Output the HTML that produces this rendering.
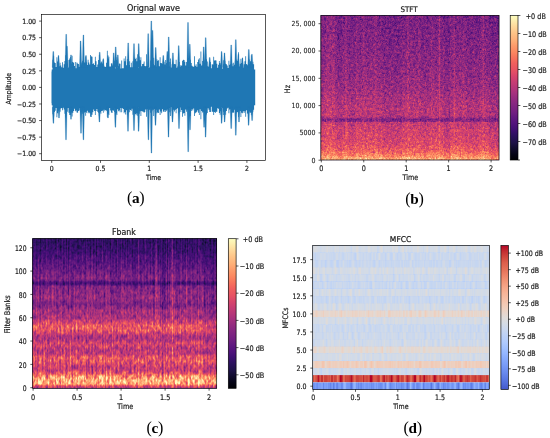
<!DOCTYPE html>
<html lang="en"><head><meta charset="utf-8"><title>Audio feature figures</title>
<style>html,body{margin:0;padding:0;background:#fff}svg{display:block}.t text{stroke:#1a1a1a;stroke-width:.2px}</style></head>
<body>
<svg width="550" height="438" viewBox="0 0 550 438">
<defs>
<linearGradient id="gMag" x1="0" y1="1" x2="0" y2="0"><stop offset="0" stop-color="#000004"/><stop offset="0.04" stop-color="#050416"/><stop offset="0.08" stop-color="#100b2d"/><stop offset="0.12" stop-color="#1d1147"/><stop offset="0.17" stop-color="#2c115f"/><stop offset="0.21" stop-color="#3f0f72"/><stop offset="0.25" stop-color="#51127c"/><stop offset="0.29" stop-color="#601880"/><stop offset="0.33" stop-color="#721f81"/><stop offset="0.38" stop-color="#832681"/><stop offset="0.42" stop-color="#932b80"/><stop offset="0.46" stop-color="#a5317e"/><stop offset="0.5" stop-color="#b73779"/><stop offset="0.54" stop-color="#c73d73"/><stop offset="0.58" stop-color="#d8456c"/><stop offset="0.62" stop-color="#e75263"/><stop offset="0.67" stop-color="#f1605d"/><stop offset="0.71" stop-color="#f8745c"/><stop offset="0.75" stop-color="#fc8961"/><stop offset="0.79" stop-color="#fd9b6b"/><stop offset="0.83" stop-color="#feb078"/><stop offset="0.88" stop-color="#fec488"/><stop offset="0.92" stop-color="#fed799"/><stop offset="0.96" stop-color="#fdebac"/><stop offset="1" stop-color="#fcfdbf"/></linearGradient>
<linearGradient id="gCW" x1="0" y1="1" x2="0" y2="0"><stop offset="0" stop-color="#4358cb"/><stop offset="0.04" stop-color="#506bda"/><stop offset="0.08" stop-color="#5d7ce6"/><stop offset="0.12" stop-color="#6a8bef"/><stop offset="0.17" stop-color="#799cf8"/><stop offset="0.21" stop-color="#86a9fc"/><stop offset="0.25" stop-color="#94b6ff"/><stop offset="0.29" stop-color="#a3c2fe"/><stop offset="0.33" stop-color="#b1cbfc"/><stop offset="0.38" stop-color="#bed2f6"/><stop offset="0.42" stop-color="#cbd8ee"/><stop offset="0.46" stop-color="#d6dce4"/><stop offset="0.5" stop-color="#e0dbd8"/><stop offset="0.54" stop-color="#ead4c8"/><stop offset="0.58" stop-color="#f1ccb8"/><stop offset="0.62" stop-color="#f5c1a9"/><stop offset="0.67" stop-color="#f7b497"/><stop offset="0.71" stop-color="#f7a688"/><stop offset="0.75" stop-color="#f39778"/><stop offset="0.79" stop-color="#ee8468"/><stop offset="0.83" stop-color="#e67259"/><stop offset="0.88" stop-color="#dd5f4b"/><stop offset="0.92" stop-color="#d0473d"/><stop offset="0.96" stop-color="#c32e31"/><stop offset="1" stop-color="#b40426"/></linearGradient>
<linearGradient id="pS" x1="0" y1="0" x2="0" y2="1"><stop offset="0" stop-color="#5b5b5b"/><stop offset="0.1" stop-color="#5d5d5d"/><stop offset="0.25" stop-color="#636363"/><stop offset="0.38" stop-color="#696969"/><stop offset="0.5" stop-color="#707070"/><stop offset="0.58" stop-color="#7a7a7a"/><stop offset="0.65" stop-color="#828282"/><stop offset="0.7" stop-color="#808080"/><stop offset="0.71" stop-color="#6e6e6e"/><stop offset="0.72" stop-color="#5e5e5e"/><stop offset="0.74" stop-color="#6e6e6e"/><stop offset="0.74" stop-color="#888888"/><stop offset="0.79" stop-color="#909090"/><stop offset="0.86" stop-color="#969696"/><stop offset="0.91" stop-color="#a1a1a1"/><stop offset="0.94" stop-color="#adadad"/><stop offset="0.97" stop-color="#c2c2c2"/><stop offset="0.99" stop-color="#d9d9d9"/><stop offset="1" stop-color="#cccccc"/></linearGradient>
<linearGradient id="pF" x1="0" y1="0" x2="0" y2="1"><stop offset="0" stop-color="#2b2b2b"/><stop offset="0.07" stop-color="#303030"/><stop offset="0.13" stop-color="#3d3d3d"/><stop offset="0.18" stop-color="#474747"/><stop offset="0.23" stop-color="#525252"/><stop offset="0.26" stop-color="#5c5c5c"/><stop offset="0.28" stop-color="#575757"/><stop offset="0.29" stop-color="#424242"/><stop offset="0.3" stop-color="#383838"/><stop offset="0.31" stop-color="#424242"/><stop offset="0.32" stop-color="#5c5c5c"/><stop offset="0.36" stop-color="#626262"/><stop offset="0.4" stop-color="#696969"/><stop offset="0.42" stop-color="#636363"/><stop offset="0.44" stop-color="#595959"/><stop offset="0.46" stop-color="#636363"/><stop offset="0.48" stop-color="#737373"/><stop offset="0.53" stop-color="#757575"/><stop offset="0.55" stop-color="#8a8a8a"/><stop offset="0.58" stop-color="#a1a1a1"/><stop offset="0.61" stop-color="#a3a3a3"/><stop offset="0.63" stop-color="#949494"/><stop offset="0.65" stop-color="#7d7d7d"/><stop offset="0.68" stop-color="#7d7d7d"/><stop offset="0.7" stop-color="#919191"/><stop offset="0.72" stop-color="#8f8f8f"/><stop offset="0.74" stop-color="#828282"/><stop offset="0.77" stop-color="#878787"/><stop offset="0.79" stop-color="#9e9e9e"/><stop offset="0.82" stop-color="#a3a3a3"/><stop offset="0.84" stop-color="#949494"/><stop offset="0.86" stop-color="#8a8a8a"/><stop offset="0.88" stop-color="#8c8c8c"/><stop offset="0.9" stop-color="#a3a3a3"/><stop offset="0.92" stop-color="#c7c7c7"/><stop offset="0.94" stop-color="#d4d4d4"/><stop offset="0.97" stop-color="#d4d4d4"/><stop offset="0.98" stop-color="#a8a8a8"/><stop offset="0.99" stop-color="#8c8c8c"/><stop offset="1" stop-color="#808080"/></linearGradient>
<filter id="fS" x="0" y="0" width="1" height="1" color-interpolation-filters="sRGB">
<feTurbulence type="fractalNoise" baseFrequency="0.37" numOctaves="2" seed="3" result="n0"/>
<feColorMatrix in="n0" type="matrix" values="1 0 0 0 0 1 0 0 0 0 1 0 0 0 0 0 0 0 0 1" result="g0"/>
<feGaussianBlur in="g0" stdDeviation="0.5" result="b0"/>
<feComposite in="SourceGraphic" in2="b0" operator="arithmetic" k1="0" k2="1" k3="0.3" k4="-0.15" result="v0"/>
<feTurbulence type="fractalNoise" baseFrequency="0.83 0.71" numOctaves="2" seed="9" result="n1"/>
<feColorMatrix in="n1" type="matrix" values="1 0 0 0 0 1 0 0 0 0 1 0 0 0 0 0 0 0 0 1" result="g1"/>
<feGaussianBlur in="g1" stdDeviation="0.35" result="b1"/>
<feComposite in="v0" in2="b1" operator="arithmetic" k1="0" k2="1" k3="0.3" k4="-0.15" result="v1"/>
<feComponentTransfer in="v1" result="c"><feFuncR type="table" tableValues="0.001 0.008 0.019 0.040 0.061 0.088 0.113 0.147 0.178 0.219 0.252 0.285 0.323 0.354 0.390 0.421 0.457 0.488 0.525 0.557 0.588 0.626 0.658 0.697 0.729 0.767 0.799 0.835 0.863 0.890 0.918 0.937 0.956 0.968 0.978 0.985 0.990 0.993 0.995 0.997 0.997 0.997 0.996 0.995 0.993 0.991 0.989 0.987"/><feFuncG type="table" tableValues="0.000 0.006 0.016 0.031 0.045 0.058 0.065 0.069 0.067 0.061 0.059 0.063 0.074 0.085 0.100 0.113 0.128 0.139 0.153 0.163 0.174 0.186 0.196 0.209 0.219 0.234 0.247 0.266 0.284 0.305 0.336 0.365 0.404 0.440 0.484 0.521 0.565 0.602 0.639 0.683 0.719 0.762 0.798 0.841 0.877 0.920 0.956 0.991"/><feFuncB type="table" tableValues="0.014 0.045 0.085 0.134 0.176 0.230 0.277 0.334 0.379 0.425 0.453 0.472 0.487 0.496 0.502 0.505 0.507 0.508 0.507 0.505 0.502 0.496 0.490 0.481 0.471 0.458 0.445 0.428 0.412 0.397 0.380 0.369 0.361 0.360 0.366 0.377 0.395 0.414 0.437 0.467 0.494 0.529 0.560 0.599 0.633 0.676 0.712 0.750"/></feComponentTransfer>
<feComposite in="c" in2="SourceGraphic" operator="in"/>
</filter>
<filter id="fF" x="0" y="0" width="1" height="1" color-interpolation-filters="sRGB">
<feTurbulence type="fractalNoise" baseFrequency="0.5 0.2" numOctaves="2" seed="11" result="n0"/>
<feColorMatrix in="n0" type="matrix" values="1 0 0 0 0 1 0 0 0 0 1 0 0 0 0 0 0 0 0 1" result="g0"/>
<feGaussianBlur in="g0" stdDeviation="0.3" result="b0"/>
<feComposite in="SourceGraphic" in2="b0" operator="arithmetic" k1="0.84" k2="0.58" k3="0" k4="0" result="v0"/>
<feTurbulence type="fractalNoise" baseFrequency="0.5" numOctaves="2" seed="4" result="n1"/>
<feColorMatrix in="n1" type="matrix" values="1 0 0 0 0 1 0 0 0 0 1 0 0 0 0 0 0 0 0 1" result="g1"/>
<feGaussianBlur in="g1" stdDeviation="0.4" result="b1"/>
<feComposite in="v0" in2="b1" operator="arithmetic" k1="0" k2="1" k3="0.12" k4="-0.06" result="v1"/>
<feTurbulence type="fractalNoise" baseFrequency="0.8 0.012" numOctaves="1" seed="8" result="n2"/>
<feColorMatrix in="n2" type="matrix" values="1 0 0 0 0 1 0 0 0 0 1 0 0 0 0 0 0 0 0 1" result="g2"/>
<feComposite in="v1" in2="g2" operator="arithmetic" k1="0" k2="1" k3="0.3" k4="-0.15" result="v2"/>
<feComponentTransfer in="v2" result="c"><feFuncR type="table" tableValues="0.001 0.008 0.019 0.040 0.061 0.088 0.113 0.147 0.178 0.219 0.252 0.285 0.323 0.354 0.390 0.421 0.457 0.488 0.525 0.557 0.588 0.626 0.658 0.697 0.729 0.767 0.799 0.835 0.863 0.890 0.918 0.937 0.956 0.968 0.978 0.985 0.990 0.993 0.995 0.997 0.997 0.997 0.996 0.995 0.993 0.991 0.989 0.987"/><feFuncG type="table" tableValues="0.000 0.006 0.016 0.031 0.045 0.058 0.065 0.069 0.067 0.061 0.059 0.063 0.074 0.085 0.100 0.113 0.128 0.139 0.153 0.163 0.174 0.186 0.196 0.209 0.219 0.234 0.247 0.266 0.284 0.305 0.336 0.365 0.404 0.440 0.484 0.521 0.565 0.602 0.639 0.683 0.719 0.762 0.798 0.841 0.877 0.920 0.956 0.991"/><feFuncB type="table" tableValues="0.014 0.045 0.085 0.134 0.176 0.230 0.277 0.334 0.379 0.425 0.453 0.472 0.487 0.496 0.502 0.505 0.507 0.508 0.507 0.505 0.502 0.496 0.490 0.481 0.471 0.458 0.445 0.428 0.412 0.397 0.380 0.369 0.361 0.360 0.366 0.377 0.395 0.414 0.437 0.467 0.494 0.529 0.560 0.599 0.633 0.676 0.712 0.750"/></feComponentTransfer>
<feComposite in="c" in2="SourceGraphic" operator="in"/>
</filter>
<filter id="fM" x="0" y="0" width="1" height="1" color-interpolation-filters="sRGB">
<feTurbulence type="fractalNoise" baseFrequency="0.33 0.0001" numOctaves="2" seed="5" result="n0"/>
<feColorMatrix in="n0" type="matrix" values="1 0 0 0 0 1 0 0 0 0 1 0 0 0 0 0 0 0 0 1" result="g0"/>
<feComposite in="SourceGraphic" in2="g0" operator="arithmetic" k1="0" k2="1" k3="0.17" k4="-0.09" result="v0"/>
<feComponentTransfer in="v0" result="c"><feFuncR type="table" tableValues="0.230 0.253 0.276 0.304 0.329 0.358 0.384 0.415 0.441 0.473 0.500 0.527 0.560 0.587 0.619 0.646 0.678 0.704 0.734 0.759 0.782 0.809 0.831 0.855 0.876 0.900 0.916 0.933 0.946 0.955 0.963 0.968 0.970 0.968 0.965 0.959 0.949 0.939 0.927 0.909 0.892 0.870 0.848 0.820 0.796 0.764 0.735 0.706"/><feFuncG type="table" tableValues="0.299 0.333 0.367 0.407 0.440 0.478 0.510 0.547 0.577 0.611 0.639 0.665 0.695 0.718 0.744 0.764 0.787 0.803 0.820 0.833 0.843 0.853 0.860 0.864 0.860 0.848 0.834 0.816 0.799 0.779 0.754 0.731 0.701 0.674 0.640 0.610 0.572 0.540 0.505 0.462 0.425 0.379 0.338 0.287 0.242 0.179 0.104 0.016"/><feFuncB type="table" tableValues="0.754 0.784 0.813 0.845 0.870 0.897 0.918 0.939 0.955 0.971 0.981 0.989 0.996 0.999 0.999 0.997 0.991 0.983 0.971 0.958 0.943 0.922 0.903 0.877 0.851 0.818 0.789 0.753 0.723 0.693 0.656 0.625 0.588 0.557 0.520 0.489 0.453 0.424 0.395 0.361 0.333 0.301 0.275 0.245 0.221 0.193 0.171 0.150"/></feComponentTransfer>
<feComposite in="c" in2="SourceGraphic" operator="in"/>
</filter>
<filter id="fM2" x="0" y="0" width="1" height="1" color-interpolation-filters="sRGB">
<feTurbulence type="fractalNoise" baseFrequency="0.3 0.0001" numOctaves="2" seed="5" result="n0"/>
<feColorMatrix in="n0" type="matrix" values="1 0 0 0 0 1 0 0 0 0 1 0 0 0 0 0 0 0 0 1" result="g0"/>
<feComposite in="SourceGraphic" in2="g0" operator="arithmetic" k1="0" k2="1" k3="0.42" k4="-0.21" result="v0"/>
<feComponentTransfer in="v0" result="c"><feFuncR type="table" tableValues="0.230 0.253 0.276 0.304 0.329 0.358 0.384 0.415 0.441 0.473 0.500 0.527 0.560 0.587 0.619 0.646 0.678 0.704 0.734 0.759 0.782 0.809 0.831 0.855 0.876 0.900 0.916 0.933 0.946 0.955 0.963 0.968 0.970 0.968 0.965 0.959 0.949 0.939 0.927 0.909 0.892 0.870 0.848 0.820 0.796 0.764 0.735 0.706"/><feFuncG type="table" tableValues="0.299 0.333 0.367 0.407 0.440 0.478 0.510 0.547 0.577 0.611 0.639 0.665 0.695 0.718 0.744 0.764 0.787 0.803 0.820 0.833 0.843 0.853 0.860 0.864 0.860 0.848 0.834 0.816 0.799 0.779 0.754 0.731 0.701 0.674 0.640 0.610 0.572 0.540 0.505 0.462 0.425 0.379 0.338 0.287 0.242 0.179 0.104 0.016"/><feFuncB type="table" tableValues="0.754 0.784 0.813 0.845 0.870 0.897 0.918 0.939 0.955 0.971 0.981 0.989 0.996 0.999 0.999 0.997 0.991 0.983 0.971 0.958 0.943 0.922 0.903 0.877 0.851 0.818 0.789 0.753 0.723 0.693 0.656 0.625 0.588 0.557 0.520 0.489 0.453 0.424 0.395 0.361 0.333 0.301 0.275 0.245 0.221 0.193 0.171 0.150"/></feComponentTransfer>
<feComposite in="c" in2="SourceGraphic" operator="in"/>
</filter>
</defs>
<rect width="550" height="438" fill="#fff"/>
<g class="t" font-family="DejaVu Sans, Liberation Sans, sans-serif" font-size="7.2" fill="#1a1a1a">
<rect x="51.7" y="69.5" width="203.5" height="35.8" fill="#1f77b4"/>
<path d="M51.7 71.49L52.5 71.49L52.5 59.81L53.3 59.81L53.3 55.78L54.1 55.78L54.1 62.42L54.9 62.42L54.9 62.99L55.7 62.99L55.7 66.98L56.5 66.98L56.5 57.23L57.3 57.23L57.3 61.5L58.1 61.5L58.1 62.93L58.9 62.93L58.9 66.13L59.7 66.13L59.7 62.68L60.5 62.68L60.5 65.49L61.3 65.49L61.3 67.3L62.1 67.3L62.1 62.31L62.9 62.31L62.9 67.84L63.7 67.84L63.7 64.25L64.5 64.25L64.5 61.07L65.3 61.07L65.3 55.22L66.1 55.22L66.1 63.43L66.9 63.43L66.9 66.06L67.7 66.06L67.7 67.39L68.5 67.39L68.5 59.98L69.3 59.98L69.3 58.6L70.1 58.6L70.1 57.1L70.9 57.1L70.9 63.66L71.7 63.66L71.7 55.84L72.5 55.84L72.5 61.97L73.3 61.97L73.3 62.83L74.1 62.83L74.1 65.95L74.9 65.95L74.9 61.93L75.7 61.93L75.7 68.36L76.5 68.36L76.5 62.54L77.3 62.54L77.3 63.42L78.1 63.42L78.1 63.89L78.9 63.89L78.9 67.07L79.7 67.07L79.7 65.47L80.5 65.47L80.5 64.41L81.3 64.41L81.3 62.47L82.1 62.47L82.1 60.85L82.9 60.85L82.9 62.6L83.7 62.6L83.7 62.12L84.5 62.12L84.5 62.88L85.3 62.88L85.3 56.53L86.1 56.53L86.1 62.21L86.9 62.21L86.9 65.09L87.7 65.09L87.7 59.78L88.5 59.78L88.5 62.41L89.3 62.41L89.3 64.5L90.1 64.5L90.1 55L90.9 55L90.9 56.2L91.7 56.2L91.7 56.65L92.5 56.65L92.5 64.11L93.3 64.11L93.3 63.25L94.1 63.25L94.1 65.11L94.9 65.11L94.9 56.76L95.7 56.76L95.7 61.37L96.5 61.37L96.5 67L97.3 67L97.3 64.38L98.1 64.38L98.1 60.04L98.9 60.04L98.9 54.81L99.7 54.81L99.7 63.38L100.5 63.38L100.5 62.42L101.3 62.42L101.3 61.62L102.1 61.62L102.1 63.39L102.9 63.39L102.9 58.49L103.7 58.49L103.7 66.13L104.5 66.13L104.5 67.11L105.3 67.11L105.3 66.79L106.1 66.79L106.1 62.81L106.9 62.81L106.9 50.73L107.7 50.73L107.7 58.57L108.5 58.57L108.5 56.69L109.3 56.69L109.3 66.49L110.1 66.49L110.1 66.39L110.9 66.39L110.9 63.19L111.7 63.19L111.7 63.58L112.5 63.58L112.5 65.55L113.3 65.55L113.3 66.31L114.1 66.31L114.1 60.72L114.9 60.72L114.9 68.36L115.7 68.36L115.7 59.96L116.5 59.96L116.5 57.33L117.3 57.33L117.3 67.37L118.1 67.37L118.1 65.89L118.9 65.89L118.9 63.49L119.7 63.49L119.7 63.84L120.5 63.84L120.5 68.47L121.3 68.47L121.3 60.5L122.1 60.5L122.1 68.23L122.9 68.23L122.9 68.16L123.7 68.16L123.7 58.59L124.5 58.59L124.5 61.22L125.3 61.22L125.3 56.19L126.1 56.19L126.1 65.19L126.9 65.19L126.9 59L127.7 59L127.7 62.18L128.5 62.18L128.5 64.95L129.3 64.95L129.3 61.35L130.1 61.35L130.1 67.25L130.9 67.25L130.9 62.79L131.7 62.79L131.7 67.17L132.5 67.17L132.5 61.16L133.3 61.16L133.3 64.51L134.1 64.51L134.1 57.83L134.9 57.83L134.9 59.07L135.7 59.07L135.7 57.72L136.5 57.72L136.5 61.24L137.3 61.24L137.3 54.15L138.1 54.15L138.1 67.5L138.9 67.5L138.9 56.61L139.7 56.61L139.7 60.27L140.5 60.27L140.5 57.22L141.3 57.22L141.3 66.32L142.1 66.32L142.1 64.08L142.9 64.08L142.9 63.74L143.7 63.74L143.7 61.54L144.5 61.54L144.5 65.95L145.3 65.95L145.3 66.15L146.1 66.15L146.1 54.31L146.9 54.31L146.9 66.11L147.7 66.11L147.7 62.28L148.5 62.28L148.5 67.74L149.3 67.74L149.3 67.26L150.1 67.26L150.1 60.54L150.9 60.54L150.9 65.26L151.7 65.26L151.7 63.91L152.5 63.91L152.5 64.02L153.3 64.02L153.3 57.83L154.1 57.83L154.1 65.28L154.9 65.28L154.9 64.94L155.7 64.94L155.7 66.55L156.5 66.55L156.5 59.34L157.3 59.34L157.3 60.8L158.1 60.8L158.1 60.29L158.9 60.29L158.9 66.31L159.7 66.31L159.7 57.3L160.5 57.3L160.5 63.11L161.3 63.11L161.3 63.34L162.1 63.34L162.1 63.85L162.9 63.85L162.9 61.24L163.7 61.24L163.7 61.8L164.5 61.8L164.5 64.54L165.3 64.54L165.3 59.88L166.1 59.88L166.1 63.1L166.9 63.1L166.9 66.23L167.7 66.23L167.7 61.63L168.5 61.63L168.5 66.16L169.3 66.16L169.3 61.95L170.1 61.95L170.1 58.38L170.9 58.38L170.9 67.42L171.7 67.42L171.7 64.16L172.5 64.16L172.5 63.91L173.3 63.91L173.3 64.59L174.1 64.59L174.1 63.88L174.9 63.88L174.9 64.18L175.7 64.18L175.7 59.66L176.5 59.66L176.5 67.66L177.3 67.66L177.3 66.38L178.1 66.38L178.1 64.01L178.9 64.01L178.9 61.89L179.7 61.89L179.7 66.5L180.5 66.5L180.5 64.98L181.3 64.98L181.3 65.65L182.1 65.65L182.1 60.7L182.9 60.7L182.9 59.85L183.7 59.85L183.7 59.96L184.5 59.96L184.5 61.67L185.3 61.67L185.3 65.62L186.1 65.62L186.1 62L186.9 62L186.9 65.54L187.7 65.54L187.7 62.95L188.5 62.95L188.5 63.56L189.3 63.56L189.3 63.62L190.1 63.62L190.1 59.71L190.9 59.71L190.9 62.88L191.7 62.88L191.7 65.67L192.5 65.67L192.5 66.39L193.3 66.39L193.3 66.79L194.1 66.79L194.1 56.3L194.9 56.3L194.9 65.76L195.7 65.76L195.7 64.29L196.5 64.29L196.5 66.76L197.3 66.76L197.3 61.91L198.1 61.91L198.1 59.58L198.9 59.58L198.9 58.23L199.7 58.23L199.7 63.78L200.5 63.78L200.5 51.53L201.3 51.53L201.3 65.57L202.1 65.57L202.1 61.06L202.9 61.06L202.9 65.33L203.7 65.33L203.7 62.79L204.5 62.79L204.5 60.31L205.3 60.31L205.3 53.92L206.1 53.92L206.1 59.17L206.9 59.17L206.9 61.6L207.7 61.6L207.7 66.24L208.5 66.24L208.5 67.08L209.3 67.08L209.3 63.66L210.1 63.66L210.1 62.01L210.9 62.01L210.9 68.16L211.7 68.16L211.7 64.23L212.5 64.23L212.5 64.62L213.3 64.62L213.3 56.74L214.1 56.74L214.1 60.59L214.9 60.59L214.9 60.23L215.7 60.23L215.7 60.58L216.5 60.58L216.5 63.85L217.3 63.85L217.3 67.68L218.1 67.68L218.1 64.79L218.9 64.79L218.9 61.06L219.7 61.06L219.7 62.97L220.5 62.97L220.5 64.5L221.3 64.5L221.3 66.91L222.1 66.91L222.1 68.38L222.9 68.38L222.9 60.25L223.7 60.25L223.7 64.21L224.5 64.21L224.5 60.78L225.3 60.78L225.3 63.69L226.1 63.69L226.1 64.13L226.9 64.13L226.9 65.6L227.7 65.6L227.7 67.98L228.5 67.98L228.5 60.63L229.3 60.63L229.3 64.86L230.1 64.86L230.1 64.16L230.9 64.16L230.9 60.77L231.7 60.77L231.7 63.55L232.5 63.55L232.5 66.37L233.3 66.37L233.3 62.87L234.1 62.87L234.1 64.72L234.9 64.72L234.9 61.11L235.7 61.11L235.7 60.48L236.5 60.48L236.5 59.46L237.3 59.46L237.3 60.9L238.1 60.9L238.1 52.14L238.9 52.14L238.9 66.41L239.7 66.41L239.7 63.73L240.5 63.73L240.5 58.78L241.3 58.78L241.3 62.96L242.1 62.96L242.1 57.77L242.9 57.77L242.9 67.44L243.7 67.44L243.7 64.22L244.5 64.22L244.5 61.18L245.3 61.18L245.3 56.29L246.1 56.29L246.1 64L246.9 64L246.9 65.15L247.7 65.15L247.7 64.31L248.5 64.31L248.5 63.91L249.3 63.91L249.3 59.39L250.1 59.39L250.1 61.23L250.9 61.23L250.9 55.15L251.7 55.15L251.7 63.89L252.5 63.89L252.5 61.78L253.3 61.78L253.3 64.35L254.1 64.35L254.1 71.49L254.9 71.49L254.9 103.31L254.1 103.31L254.1 109.64L253.3 109.64L253.3 111.78L252.5 111.78L252.5 112.47L251.7 112.47L251.7 115.19L250.9 115.19L250.9 112.68L250.1 112.68L250.1 112.58L249.3 112.58L249.3 111.03L248.5 111.03L248.5 112.98L247.7 112.98L247.7 113.8L246.9 113.8L246.9 110.26L246.1 110.26L246.1 116.74L245.3 116.74L245.3 111.13L244.5 111.13L244.5 113.07L243.7 113.07L243.7 111.14L242.9 111.14L242.9 113.2L242.1 113.2L242.1 112.8L241.3 112.8L241.3 116.91L240.5 116.91L240.5 111.11L239.7 111.11L239.7 110.38L238.9 110.38L238.9 117.02L238.1 117.02L238.1 112.17L237.3 112.17L237.3 112L236.5 112L236.5 113.51L235.7 113.51L235.7 116.43L234.9 116.43L234.9 109.77L234.1 109.77L234.1 112.49L233.3 112.49L233.3 112.89L232.5 112.89L232.5 112.15L231.7 112.15L231.7 112.56L230.9 112.56L230.9 109.03L230.1 109.03L230.1 109.46L229.3 109.46L229.3 113.16L228.5 113.16L228.5 107.63L227.7 107.63L227.7 108.54L226.9 108.54L226.9 111.06L226.1 111.06L226.1 114.75L225.3 114.75L225.3 111.68L224.5 111.68L224.5 111.63L223.7 111.63L223.7 115.06L222.9 115.06L222.9 107.93L222.1 107.93L222.1 107.4L221.3 107.4L221.3 111.28L220.5 111.28L220.5 114.73L219.7 114.73L219.7 113.11L218.9 113.11L218.9 108.74L218.1 108.74L218.1 108.34L217.3 108.34L217.3 111.65L216.5 111.65L216.5 111.74L215.7 111.74L215.7 113.12L214.9 113.12L214.9 111.89L214.1 111.89L214.1 114.99L213.3 114.99L213.3 111.69L212.5 111.69L212.5 111.81L211.7 111.81L211.7 106.76L210.9 106.76L210.9 111.9L210.1 111.9L210.1 111.99L209.3 111.99L209.3 109.79L208.5 109.79L208.5 108.22L207.7 108.22L207.7 112.88L206.9 112.88L206.9 114.49L206.1 114.49L206.1 115.91L205.3 115.91L205.3 112.11L204.5 112.11L204.5 112.33L203.7 112.33L203.7 111.83L202.9 111.83L202.9 112.45L202.1 112.45L202.1 110.94L201.3 110.94L201.3 119.34L200.5 119.34L200.5 109.37L199.7 109.37L199.7 115.04L198.9 115.04L198.9 112.84L198.1 112.84L198.1 110.3L197.3 110.3L197.3 111.8L196.5 111.8L196.5 112.41L195.7 112.41L195.7 113.13L194.9 113.13L194.9 115.93L194.1 115.93L194.1 108.45L193.3 108.45L193.3 110.47L192.5 110.47L192.5 109.2L191.7 109.2L191.7 110.9L190.9 110.9L190.9 115.98L190.1 115.98L190.1 111.46L189.3 111.46L189.3 111.14L188.5 111.14L188.5 114.58L187.7 114.58L187.7 109.76L186.9 109.76L186.9 111.82L186.1 111.82L186.1 109.49L185.3 109.49L185.3 115.66L184.5 115.66L184.5 112.96L183.7 112.96L183.7 113.52L182.9 113.52L182.9 116.66L182.1 116.66L182.1 110.02L181.3 110.02L181.3 111.97L180.5 111.97L180.5 107.62L179.7 107.62L179.7 112.02L178.9 112.02L178.9 113.25L178.1 113.25L178.1 108.03L177.3 108.03L177.3 108.95L176.5 108.95L176.5 113.2L175.7 113.2L175.7 109.76L174.9 109.76L174.9 111.5L174.1 111.5L174.1 110.05L173.3 110.05L173.3 109.18L172.5 109.18L172.5 110.77L171.7 110.77L171.7 107.33L170.9 107.33L170.9 115.92L170.1 115.92L170.1 112.24L169.3 112.24L169.3 107.89L168.5 107.89L168.5 110.56L167.7 110.56L167.7 109.44L166.9 109.44L166.9 110.65L166.1 110.65L166.1 112.04L165.3 112.04L165.3 110.19L164.5 110.19L164.5 112.1L163.7 112.1L163.7 111.51L162.9 111.51L162.9 109.37L162.1 109.37L162.1 113.17L161.3 113.17L161.3 111.47L160.5 111.47L160.5 114.91L159.7 114.91L159.7 109.45L158.9 109.45L158.9 113.09L158.1 113.09L158.1 112.51L157.3 112.51L157.3 113.34L156.5 113.34L156.5 109.71L155.7 109.71L155.7 111.85L154.9 111.85L154.9 109.04L154.1 109.04L154.1 115.97L153.3 115.97L153.3 109.72L152.5 109.72L152.5 111.31L151.7 111.31L151.7 108.39L150.9 108.39L150.9 112.78L150.1 112.78L150.1 109.98L149.3 109.98L149.3 109.31L148.5 109.31L148.5 111.61L147.7 111.61L147.7 109.29L146.9 109.29L146.9 116.8L146.1 116.8L146.1 109.57L145.3 109.57L145.3 112L144.5 112L144.5 112.64L143.7 112.64L143.7 111.71L142.9 111.71L142.9 111.57L142.1 111.57L142.1 111.03L141.3 111.03L141.3 116.1L140.5 116.1L140.5 111.34L139.7 111.34L139.7 113.87L138.9 113.87L138.9 107.78L138.1 107.78L138.1 115.74L137.3 115.74L137.3 113.62L136.5 113.62L136.5 115.25L135.7 115.25L135.7 113.88L134.9 113.88L134.9 113.33L134.1 113.33L134.1 110.65L133.3 110.65L133.3 114.68L132.5 114.68L132.5 108.82L131.7 108.82L131.7 110.83L130.9 110.83L130.9 109.91L130.1 109.91L130.1 112.24L129.3 112.24L129.3 109.6L128.5 109.6L128.5 111.44L127.7 111.44L127.7 114.82L126.9 114.82L126.9 110.34L126.1 110.34L126.1 114.56L125.3 114.56L125.3 112.12L124.5 112.12L124.5 113.29L123.7 113.29L123.7 108.89L122.9 108.89L122.9 108.26L122.1 108.26L122.1 112.13L121.3 112.13L121.3 108.08L120.5 108.08L120.5 112.13L119.7 112.13L119.7 110.48L118.9 110.48L118.9 111.29L118.1 111.29L118.1 109.22L117.3 109.22L117.3 114.92L116.5 114.92L116.5 113.46L115.7 113.46L115.7 108.22L114.9 108.22L114.9 111.96L114.1 111.96L114.1 110.75L113.3 110.75L113.3 110.3L112.5 110.3L112.5 113.04L111.7 113.04L111.7 112.42L110.9 112.42L110.9 110.62L110.1 110.62L110.1 107.92L109.3 107.92L109.3 115.01L108.5 115.01L108.5 113.85L107.7 113.85L107.7 117.33L106.9 117.33L106.9 110.69L106.1 110.69L106.1 110.08L105.3 110.08L105.3 111.26L104.5 111.26L104.5 109.7L103.7 109.7L103.7 112.79L102.9 112.79L102.9 110.63L102.1 110.63L102.1 110.88L101.3 110.88L101.3 113.76L100.5 113.76L100.5 112.25L99.7 112.25L99.7 116.1L98.9 116.1L98.9 112.8L98.1 112.8L98.1 111.74L97.3 111.74L97.3 108.9L96.5 108.9L96.5 110.89L95.7 110.89L95.7 114.93L94.9 114.93L94.9 111.1L94.1 111.1L94.1 109.53L93.3 109.53L93.3 112.18L92.5 112.18L92.5 114.87L91.7 114.87L91.7 116.99L90.9 116.99L90.9 116.77L90.1 116.77L90.1 113.28L89.3 113.28L89.3 112.16L88.5 112.16L88.5 113.31L87.7 113.31L87.7 110.76L86.9 110.76L86.9 112.82L86.1 112.82L86.1 115.81L85.3 115.81L85.3 112.07L84.5 112.07L84.5 113.12L83.7 113.12L83.7 111.9L82.9 111.9L82.9 113.67L82.1 113.67L82.1 110.98L81.3 110.98L81.3 110.18L80.5 110.18L80.5 108.34L79.7 108.34L79.7 110.39L78.9 110.39L78.9 111.05L78.1 111.05L78.1 112.87L77.3 112.87L77.3 112.47L76.5 112.47L76.5 110.58L75.7 110.58L75.7 111.21L74.9 111.21L74.9 108.76L74.1 108.76L74.1 111.12L73.3 111.12L73.3 112.87L72.5 112.87L72.5 116.39L71.7 116.39L71.7 112.48L70.9 112.48L70.9 114.88L70.1 114.88L70.1 114.94L69.3 114.94L69.3 112.71L68.5 112.71L68.5 108.04L67.7 108.04L67.7 111.69L66.9 111.69L66.9 109.38L66.1 109.38L66.1 117.5L65.3 117.5L65.3 113.64L64.5 113.64L64.5 109.51L63.7 109.51L63.7 107.75L62.9 107.75L62.9 110.33L62.1 110.33L62.1 108.05L61.3 108.05L61.3 108.56L60.5 108.56L60.5 111.84L59.7 111.84L59.7 108.5L58.9 108.5L58.9 110.65L58.1 110.65L58.1 113.14L57.3 113.14L57.3 117.33L56.5 117.33L56.5 107.9L55.7 107.9L55.7 110.79L54.9 110.79L54.9 112.07L54.1 112.07L54.1 116.4L53.3 116.4L53.3 114.17L52.5 114.17L52.5 103.31L51.7 103.31Z" fill="#1f77b4"/>
<path d="M52.2 67.51L52.9 51.6L53.7 51.6L54.4 67.51ZM57.4 67.51L58.1 55.58L58.9 55.58L59.6 67.51ZM65.1 67.51L65.8 34.36L66.6 34.36L67.3 67.51ZM65.9 67.51L66.6 46.29L67.4 46.29L68.1 67.51ZM69.9 67.51L70.6 54.91L71.4 54.91L72.1 67.51ZM79.5 67.51L80.2 40.99L81 40.99L81.7 67.51ZM82.3 67.51L83 35.02L83.8 35.02L84.5 67.51ZM84.9 67.51L85.6 55.58L86.4 55.58L87.1 67.51ZM98.6 67.51L99.3 52.26L100.1 52.26L100.8 67.51ZM102.1 67.51L102.8 59.55L103.6 59.55L104.3 67.51ZM106.8 67.51L107.5 55.58L108.3 55.58L109 67.51ZM112.6 67.51L113.3 52.92L114.1 52.92L114.8 67.51ZM114.6 67.51L115.3 46.96L116.1 46.96L116.8 67.51ZM116.7 67.51L117.4 54.91L118.2 54.91L118.9 67.51ZM127.1 67.51L127.8 42.98L128.6 42.98L129.3 67.51ZM132.9 67.51L133.6 43.64L134.4 43.64L135.1 67.51ZM137.6 67.51L138.3 43.64L139.1 43.64L139.8 67.51ZM147.1 67.51L147.8 33.7L148.6 33.7L149.3 67.51ZM150.2 67.51L150.9 21.1L151.7 21.1L152.4 67.51ZM151.5 67.51L152.2 30.38L153 30.38L153.7 67.51ZM154.6 67.51L155.3 47.62L156.1 47.62L156.8 67.51ZM162.2 67.51L162.9 55.58L163.7 55.58L164.4 67.51ZM166.2 67.51L166.9 51.6L167.7 51.6L168.4 67.51ZM167.6 67.51L168.3 37.01L169.1 37.01L169.8 67.51ZM171.8 67.51L172.5 52.92L173.3 52.92L174 67.51ZM177.6 67.51L178.3 45.63L179.1 45.63L179.8 67.51ZM186.9 67.51L187.6 22.43L188.4 22.43L189.1 67.51ZM188.7 67.51L189.4 44.31L190.2 44.31L190.9 67.51ZM202.6 67.51L203.3 46.96L204.1 46.96L204.8 67.51ZM204.6 67.51L205.3 37.68L206.1 37.68L206.8 67.51ZM208.6 67.51L209.3 57.57L210.1 57.57L210.8 67.51ZM220.5 67.51L221.2 51.6L222 51.6L222.7 67.51ZM223.4 67.51L224.1 52.92L224.9 52.92L225.6 67.51ZM230.1 67.51L230.8 44.97L231.6 44.97L232.3 67.51ZM234.7 67.51L235.4 39.66L236.2 39.66L236.9 67.51ZM237.3 67.51L238 54.25L238.8 54.25L239.5 67.51ZM241.3 67.51L242 58.23L242.8 58.23L243.5 67.51ZM247.7 67.51L248.4 49.61L249.2 49.61L249.9 67.51ZM250.8 67.51L251.5 54.25L252.3 54.25L253 67.51ZM52.3 107.29L53 123.2L53.8 123.2L54.5 107.29ZM57.9 107.29L58.6 117.9L59.4 117.9L60.1 107.29ZM64.9 107.29L65.6 139.78L66.4 139.78L67.1 107.29ZM69.9 107.29L70.6 119.22L71.4 119.22L72.1 107.29ZM79.9 107.29L80.6 133.15L81.4 133.15L82.1 107.29ZM82.3 107.29L83 139.78L83.8 139.78L84.5 107.29ZM98.3 107.29L99 121.88L99.8 121.88L100.5 107.29ZM106.9 107.29L107.6 117.9L108.4 117.9L109.1 107.29ZM114.3 107.29L115 127.18L115.8 127.18L116.5 107.29ZM126.9 107.29L127.6 131.16L128.4 131.16L129.1 107.29ZM132.9 107.29L133.6 130.5L134.4 130.5L135.1 107.29ZM137.5 107.29L138.2 131.16L139 131.16L139.7 107.29ZM147.3 107.29L148 139.78L148.8 139.78L149.5 107.29ZM150.3 107.29L151 153.04L151.8 153.04L152.5 107.29ZM154.4 107.29L155.1 125.19L155.9 125.19L156.6 107.29ZM167.4 107.29L168.1 137.12L168.9 137.12L169.6 107.29ZM171.4 107.29L172.1 121.88L172.9 121.88L173.6 107.29ZM177.9 107.29L178.6 128.51L179.4 128.51L180.1 107.29ZM187.1 107.29L187.8 151.71L188.6 151.71L189.3 107.29ZM188.9 107.29L189.6 129.83L190.4 129.83L191.1 107.29ZM203 107.29L203.7 127.18L204.5 127.18L205.2 107.29ZM204.5 107.29L205.2 137.12L206 137.12L206.7 107.29ZM220.5 107.29L221.2 123.2L222 123.2L222.7 107.29ZM223.5 107.29L224.2 121.88L225 121.88L225.7 107.29ZM230.1 107.29L230.8 128.51L231.6 128.51L232.3 107.29ZM234.7 107.29L235.4 135.14L236.2 135.14L236.9 107.29ZM237.9 107.29L238.6 121.88L239.4 121.88L240.1 107.29ZM247.5 107.29L248.2 125.19L249 125.19L249.7 107.29ZM251 107.29L251.7 120.55L252.5 120.55L253.2 107.29Z" fill="#1f77b4" stroke="#1f77b4" stroke-width="0.25"/>
<rect x="41.5" y="14.5" width="224" height="146" fill="none" stroke="#000" stroke-width="0.65"/>
<path d="M51.7 160.5v2.4M100.5 160.5v2.4M149.3 160.5v2.4M198.1 160.5v2.4M246.9 160.5v2.4" stroke="#000" stroke-width="0.65" fill="none"/>
<text transform="translate(51.7 170.7) scale(0.87 1)" text-anchor="middle" font-size="7.1">0</text>
<text transform="translate(100.5 170.7) scale(0.87 1)" text-anchor="middle" font-size="7.1">0.5</text>
<text transform="translate(149.3 170.7) scale(0.87 1)" text-anchor="middle" font-size="7.1">1</text>
<text transform="translate(198.1 170.7) scale(0.87 1)" text-anchor="middle" font-size="7.1">1.5</text>
<text transform="translate(246.9 170.7) scale(0.87 1)" text-anchor="middle" font-size="7.1">2</text>
<path d="M41.5 21.1h-2.4M41.5 37.68h-2.4M41.5 54.25h-2.4M41.5 70.83h-2.4M41.5 87.4h-2.4M41.5 103.98h-2.4M41.5 120.55h-2.4M41.5 137.12h-2.4M41.5 153.7h-2.4" stroke="#000" stroke-width="0.65" fill="none"/>
<text transform="translate(36 23.79) scale(0.87 1)" text-anchor="end" font-size="7.1">1.00</text>
<text transform="translate(36 40.37) scale(0.87 1)" text-anchor="end" font-size="7.1">0.75</text>
<text transform="translate(36 56.94) scale(0.87 1)" text-anchor="end" font-size="7.1">0.50</text>
<text transform="translate(36 73.52) scale(0.87 1)" text-anchor="end" font-size="7.1">0.25</text>
<text transform="translate(36 90.09) scale(0.87 1)" text-anchor="end" font-size="7.1">0.00</text>
<text transform="translate(36 106.67) scale(0.87 1)" text-anchor="end" font-size="7.1">−0.25</text>
<text transform="translate(36 123.24) scale(0.87 1)" text-anchor="end" font-size="7.1">−0.50</text>
<text transform="translate(36 139.82) scale(0.87 1)" text-anchor="end" font-size="7.1">−0.75</text>
<text transform="translate(36 156.39) scale(0.87 1)" text-anchor="end" font-size="7.1">−1.00</text>
<text transform="translate(153.5 11) scale(0.96 1)" text-anchor="middle" font-size="8.4">Orignal wave</text>
<text transform="translate(153.5 180) scale(0.87 1)" text-anchor="middle" font-size="7.1">Time</text>
<text transform="translate(11.3 88.7) rotate(-90) scale(0.87 1)" text-anchor="middle" font-size="7.1">Amplitude</text>
<g filter="url(#fS)"><rect x="320.5" y="15.2" width="178.8" height="145" fill="url(#pS)"/>
<rect x="326" y="15.2" width="9" height="145" fill="#fff" opacity="0.07"/>
<rect x="345" y="15.2" width="2" height="145" fill="#fff" opacity="0.07"/>
<rect x="356" y="15.2" width="1.5" height="145" fill="#fff" opacity="0.05"/>
<rect x="363" y="15.2" width="1.5" height="145" fill="#fff" opacity="0.07"/>
<rect x="374.5" y="15.2" width="2" height="145" fill="#fff" opacity="0.07"/>
<rect x="407" y="15.2" width="2" height="145" fill="#fff" opacity="0.09"/>
<rect x="418" y="15.2" width="1.5" height="145" fill="#fff" opacity="0.05"/>
<rect x="431" y="15.2" width="1.5" height="145" fill="#fff" opacity="0.05"/>
<rect x="439" y="15.2" width="1.2" height="145" fill="#fff" opacity="0.15"/>
<rect x="453.5" y="15.2" width="1.5" height="145" fill="#fff" opacity="0.1"/>
<rect x="463" y="15.2" width="1.5" height="145" fill="#fff" opacity="0.05"/>
<rect x="482.5" y="15.2" width="1.5" height="145" fill="#fff" opacity="0.1"/>
<rect x="337" y="15.2" width="5" height="145" fill="#000" opacity="0.06"/>
<rect x="349" y="15.2" width="6" height="145" fill="#000" opacity="0.04"/>
<rect x="382" y="15.2" width="20" height="145" fill="#000" opacity="0.05"/>
<rect x="421" y="15.2" width="8" height="145" fill="#000" opacity="0.04"/>
<rect x="444" y="15.2" width="6" height="145" fill="#000" opacity="0.07"/>
<rect x="466" y="15.2" width="14" height="145" fill="#000" opacity="0.04"/>
<rect x="489" y="15.2" width="10" height="145" fill="#000" opacity="0.08"/>
</g>
<rect x="320.9" y="15.5" width="178.1" height="144.5" fill="none" stroke="#000" stroke-width="0.65"/>
<path d="M321.3 160v2.4M363.75 160v2.4M406.2 160v2.4M448.65 160v2.4M491.1 160v2.4" stroke="#000" stroke-width="0.65" fill="none"/>
<text transform="translate(321.3 170.7) scale(0.84 1)" text-anchor="middle" font-size="7.7">0</text>
<text transform="translate(363.75 170.7) scale(0.84 1)" text-anchor="middle" font-size="7.7">0</text>
<text transform="translate(406.2 170.7) scale(0.84 1)" text-anchor="middle" font-size="7.7">1</text>
<text transform="translate(448.65 170.7) scale(0.84 1)" text-anchor="middle" font-size="7.7">1</text>
<text transform="translate(491.1 170.7) scale(0.84 1)" text-anchor="middle" font-size="7.7">2</text>
<path d="M320.9 160.2h-2.4M320.9 132.9h-2.4M320.9 105.6h-2.4M320.9 78.3h-2.4M320.9 51h-2.4M320.9 23.7h-2.4" stroke="#000" stroke-width="0.65" fill="none"/>
<text transform="translate(315.6 162.65) scale(0.9 1)" text-anchor="end" font-size="7" style="stroke-width:.08px">0</text>
<text transform="translate(315.6 135.35) scale(0.9 1)" text-anchor="end" font-size="7" style="stroke-width:.08px">5000</text>
<text transform="translate(315.6 108.05) scale(0.9 1)" text-anchor="end" font-size="7" style="stroke-width:.08px">10, 000</text>
<text transform="translate(315.6 80.75) scale(0.9 1)" text-anchor="end" font-size="7" style="stroke-width:.08px">15, 000</text>
<text transform="translate(315.6 53.45) scale(0.9 1)" text-anchor="end" font-size="7" style="stroke-width:.08px">20, 000</text>
<text transform="translate(315.6 26.15) scale(0.9 1)" text-anchor="end" font-size="7" style="stroke-width:.08px">25, 000</text>
<text transform="translate(409 11.9) scale(0.92 1)" text-anchor="middle" font-size="7.7">STFT</text>
<text transform="translate(410.3 179.8) scale(0.84 1)" text-anchor="middle" font-size="7.7">Time</text>
<text transform="translate(290 89.1) rotate(-90) scale(0.84 1)" text-anchor="middle" font-size="7.7">Hz</text>
<rect x="510.2" y="15.5" width="7.8" height="144.5" fill="url(#gMag)" stroke="#000" stroke-width="0.65"/>
<path d="M518 15.5h2.4M518 33.5h2.4M518 51.5h2.4M518 69.5h2.4M518 87.5h2.4M518 105.5h2.4M518 123.5h2.4M518 141.5h2.4" stroke="#000" stroke-width="0.65" fill="none"/>
<text transform="translate(525.7 18.51) scale(0.84 1)" font-size="7.7">+0 dB</text>
<text transform="translate(522.5 36.51) scale(0.84 1)" font-size="7.7">−10 dB</text>
<text transform="translate(522.5 54.51) scale(0.84 1)" font-size="7.7">−20 dB</text>
<text transform="translate(522.5 72.51) scale(0.84 1)" font-size="7.7">−30 dB</text>
<text transform="translate(522.5 90.51) scale(0.84 1)" font-size="7.7">−40 dB</text>
<text transform="translate(522.5 108.51) scale(0.84 1)" font-size="7.7">−50 dB</text>
<text transform="translate(522.5 126.51) scale(0.84 1)" font-size="7.7">−60 dB</text>
<text transform="translate(522.5 144.51) scale(0.84 1)" font-size="7.7">−70 dB</text>
<path d="M518 160h2" stroke="#000" stroke-width="0.65"/>
<g filter="url(#fF)"><rect x="32.2" y="238.2" width="184.8" height="150.3" fill="url(#pF)"/>
<rect x="138" y="238.2" width="1.2" height="150.3" fill="#fff" opacity="0.08"/>
<rect x="145.3" y="238.2" width="1.2" height="150.3" fill="#fff" opacity="0.08"/>
<rect x="155.3" y="238.2" width="1.3" height="150.3" fill="#fff" opacity="0.12"/>
<rect x="171.6" y="238.2" width="1.5" height="150.3" fill="#fff" opacity="0.2"/>
<rect x="198.2" y="238.2" width="1.3" height="150.3" fill="#fff" opacity="0.1"/>
<rect x="203" y="238.2" width="13" height="150.3" fill="#000" opacity="0.08"/>
<rect x="161" y="238.2" width="5" height="150.3" fill="#000" opacity="0.06"/>
</g>
<rect x="32.7" y="238.7" width="184" height="149.6" fill="none" stroke="#000" stroke-width="0.65"/>
<path d="M33.1 388.3v2.4M77.1 388.3v2.4M121.1 388.3v2.4M165.1 388.3v2.4M209.1 388.3v2.4" stroke="#000" stroke-width="0.65" fill="none"/>
<text transform="translate(33.1 399.9) scale(0.85 1)" text-anchor="middle" font-size="7.7">0</text>
<text transform="translate(77.1 399.9) scale(0.85 1)" text-anchor="middle" font-size="7.7">0.5</text>
<text transform="translate(121.1 399.9) scale(0.85 1)" text-anchor="middle" font-size="7.7">1</text>
<text transform="translate(165.1 399.9) scale(0.85 1)" text-anchor="middle" font-size="7.7">1.5</text>
<text transform="translate(209.1 399.9) scale(0.85 1)" text-anchor="middle" font-size="7.7">2</text>
<path d="M32.7 387.7h-2.4M32.7 364.38h-2.4M32.7 341.06h-2.4M32.7 317.74h-2.4M32.7 294.42h-2.4M32.7 271.1h-2.4M32.7 247.78h-2.4" stroke="#000" stroke-width="0.65" fill="none"/>
<text transform="translate(26.5 390.96) scale(0.79 1)" text-anchor="end" font-size="7.7">0</text>
<text transform="translate(26.5 367.64) scale(0.79 1)" text-anchor="end" font-size="7.7">20</text>
<text transform="translate(26.5 344.32) scale(0.79 1)" text-anchor="end" font-size="7.7">40</text>
<text transform="translate(26.5 321) scale(0.79 1)" text-anchor="end" font-size="7.7">60</text>
<text transform="translate(26.5 297.68) scale(0.79 1)" text-anchor="end" font-size="7.7">80</text>
<text transform="translate(26.5 274.36) scale(0.79 1)" text-anchor="end" font-size="7.7">100</text>
<text transform="translate(26.5 251.04) scale(0.79 1)" text-anchor="end" font-size="7.7">120</text>
<text transform="translate(123.9 234.6) scale(0.94 1)" text-anchor="middle" font-size="8.4">Fbank</text>
<text transform="translate(125.3 408.7) scale(0.85 1)" text-anchor="middle" font-size="7.7">Time</text>
<text transform="translate(10 314.4) rotate(-90) scale(0.85 1)" text-anchor="middle" font-size="7.7">Filter Banks</text>
<rect x="228.3" y="238.7" width="7.8" height="149.6" fill="url(#gMag)" stroke="#000" stroke-width="0.65"/>
<path d="M236.1 238.8h2.4M236.1 266h2.4M236.1 293.2h2.4M236.1 320.4h2.4M236.1 347.6h2.4M236.1 374.8h2.4" stroke="#000" stroke-width="0.65" fill="none"/>
<text transform="translate(242.7 242.06) scale(0.85 1)" font-size="7.7">+0 dB</text>
<text transform="translate(239.8 269.26) scale(0.85 1)" font-size="7.7">−10 dB</text>
<text transform="translate(239.8 296.46) scale(0.85 1)" font-size="7.7">−20 dB</text>
<text transform="translate(239.8 323.66) scale(0.85 1)" font-size="7.7">−30 dB</text>
<text transform="translate(239.8 350.86) scale(0.85 1)" font-size="7.7">−40 dB</text>
<text transform="translate(239.8 378.06) scale(0.85 1)" font-size="7.7">−50 dB</text>
<rect x="312.7" y="245.2" width="176.7" height="144.4" fill="#d4dbe6"/>
<g transform="translate(40 0)"><g filter="url(#fM2)"><rect x="272.5" y="382" width="177" height="7.7" fill="#2f2f2f"/></g></g>
<g transform="translate(230 0)"><g filter="url(#fM2)"><rect x="82.5" y="374.8" width="177" height="7.7" fill="#ebebeb"/></g></g>
<g transform="translate(420 0)"><g filter="url(#fM)"><rect x="-107.5" y="367.6" width="177" height="7.7" fill="#737373"/></g></g>
<g transform="translate(610 0)"><g filter="url(#fM)"><rect x="-297.5" y="360.4" width="177" height="7.7" fill="#969696"/></g></g>
<g transform="translate(800 0)"><g filter="url(#fM)"><rect x="-487.5" y="353.2" width="177" height="7.7" fill="#787878"/></g></g>
<g transform="translate(990 0)"><g filter="url(#fM)"><rect x="-677.5" y="346" width="177" height="7.7" fill="#878787"/></g></g>
<g transform="translate(1180 0)"><g filter="url(#fM)"><rect x="-867.5" y="338.8" width="177" height="7.7" fill="#757575"/></g></g>
<g transform="translate(1370 0)"><g filter="url(#fM)"><rect x="-1057.5" y="331.6" width="177" height="7.7" fill="#737373"/></g></g>
<g transform="translate(1560 0)"><g filter="url(#fM)"><rect x="-1247.5" y="324.4" width="177" height="7.7" fill="#717171"/></g></g>
<g transform="translate(1750 0)"><g filter="url(#fM)"><rect x="-1437.5" y="317.2" width="177" height="7.7" fill="#797979"/></g></g>
<g transform="translate(1940 0)"><g filter="url(#fM)"><rect x="-1627.5" y="310" width="177" height="7.7" fill="#8c8c8c"/></g></g>
<g transform="translate(2130 0)"><g filter="url(#fM)"><rect x="-1817.5" y="302.8" width="177" height="7.7" fill="#787878"/></g></g>
<g transform="translate(2320 0)"><g filter="url(#fM)"><rect x="-2007.5" y="295.6" width="177" height="7.7" fill="#6f6f6f"/></g></g>
<g transform="translate(2510 0)"><g filter="url(#fM)"><rect x="-2197.5" y="288.4" width="177" height="7.7" fill="#787878"/></g></g>
<g transform="translate(2700 0)"><g filter="url(#fM)"><rect x="-2387.5" y="281.2" width="177" height="7.7" fill="#707070"/></g></g>
<g transform="translate(2890 0)"><g filter="url(#fM)"><rect x="-2577.5" y="274" width="177" height="7.7" fill="#747474"/></g></g>
<g transform="translate(3080 0)"><g filter="url(#fM)"><rect x="-2767.5" y="266.8" width="177" height="7.7" fill="#797979"/></g></g>
<g transform="translate(3270 0)"><g filter="url(#fM)"><rect x="-2957.5" y="259.6" width="177" height="7.7" fill="#6f6f6f"/></g></g>
<g transform="translate(3460 0)"><g filter="url(#fM)"><rect x="-3147.5" y="252.4" width="177" height="7.7" fill="#717171"/></g></g>
<g transform="translate(3650 0)"><g filter="url(#fM)"><rect x="-3337.5" y="245.2" width="177" height="7.7" fill="#797979"/></g></g>
<rect x="312.7" y="245.45" width="176.9" height="144" fill="none" stroke="#000" stroke-width="0.65"/>
<path d="M313.2 389.45v2.4M355.5 389.45v2.4M397.8 389.45v2.4M440.1 389.45v2.4M482.4 389.45v2.4" stroke="#000" stroke-width="0.65" fill="none"/>
<text transform="translate(313.2 399.6) scale(0.84 1)" text-anchor="middle" font-size="7.5">0</text>
<text transform="translate(355.5 399.6) scale(0.84 1)" text-anchor="middle" font-size="7.5">0.5</text>
<text transform="translate(397.8 399.6) scale(0.84 1)" text-anchor="middle" font-size="7.5">1</text>
<text transform="translate(440.1 399.6) scale(0.84 1)" text-anchor="middle" font-size="7.5">1.5</text>
<text transform="translate(482.4 399.6) scale(0.84 1)" text-anchor="middle" font-size="7.5">2</text>
<path d="M312.7 386.2h-2.4M312.7 368.12h-2.4M312.7 350.04h-2.4M312.7 331.96h-2.4M312.7 313.88h-2.4M312.7 295.8h-2.4M312.7 277.72h-2.4M312.7 259.64h-2.4" stroke="#000" stroke-width="0.65" fill="none"/>
<text transform="translate(306.5 389.44) scale(0.84 1)" text-anchor="end" font-size="7.5">0.0</text>
<text transform="translate(306.5 371.36) scale(0.84 1)" text-anchor="end" font-size="7.5">2.5</text>
<text transform="translate(306.5 353.28) scale(0.84 1)" text-anchor="end" font-size="7.5">5.0</text>
<text transform="translate(306.5 335.2) scale(0.84 1)" text-anchor="end" font-size="7.5">7.5</text>
<text transform="translate(306.5 317.12) scale(0.84 1)" text-anchor="end" font-size="7.5">10.0</text>
<text transform="translate(306.5 299.04) scale(0.84 1)" text-anchor="end" font-size="7.5">12.5</text>
<text transform="translate(306.5 280.96) scale(0.84 1)" text-anchor="end" font-size="7.5">15.0</text>
<text transform="translate(306.5 262.88) scale(0.84 1)" text-anchor="end" font-size="7.5">17.5</text>
<text transform="translate(400.6 242.2) scale(0.95 1)" text-anchor="middle" font-size="8.0">MFCC</text>
<text transform="translate(400.9 409.3) scale(0.84 1)" text-anchor="middle" font-size="7.5">Time</text>
<text transform="translate(288.3 318) rotate(-90) scale(0.84 1)" text-anchor="middle" font-size="7.5">MFCCs</text>
<rect x="500.9" y="245.45" width="7.5" height="144" fill="url(#gCW)" stroke="#000" stroke-width="0.65"/>
<path d="M508.4 253.1h2.4M508.4 269.63h2.4M508.4 286.16h2.4M508.4 302.69h2.4M508.4 319.22h2.4M508.4 335.75h2.4M508.4 352.28h2.4M508.4 368.81h2.4M508.4 385.34h2.4" stroke="#000" stroke-width="0.65" fill="none"/>
<text transform="translate(515.5 256.34) scale(0.84 1)" font-size="7.5">+100 dB</text>
<text transform="translate(515.5 272.87) scale(0.84 1)" font-size="7.5">+75 dB</text>
<text transform="translate(515.5 289.4) scale(0.84 1)" font-size="7.5">+50 dB</text>
<text transform="translate(515.5 305.93) scale(0.84 1)" font-size="7.5">+25 dB</text>
<text transform="translate(515.5 322.46) scale(0.84 1)" font-size="7.5">+0 dB</text>
<text transform="translate(512 338.99) scale(0.84 1)" font-size="7.5">−25 dB</text>
<text transform="translate(512 355.52) scale(0.84 1)" font-size="7.5">−50 dB</text>
<text transform="translate(512 372.05) scale(0.84 1)" font-size="7.5">−75 dB</text>
<text transform="translate(512 388.58) scale(0.84 1)" font-size="7.5">−100 dB</text>
</g>
<text x="135.7" y="203" text-anchor="middle" font-family="Liberation Serif, serif" font-size="15.2" fill="#000" letter-spacing="-0.35"><tspan font-size="16" dy="0.3">(</tspan><tspan font-weight="bold">a</tspan><tspan font-size="16">)</tspan></text>
<text x="414.4" y="203.2" text-anchor="middle" font-family="Liberation Serif, serif" font-size="15.2" fill="#000" letter-spacing="-0.35"><tspan font-size="16" dy="0.3">(</tspan><tspan font-weight="bold">b</tspan><tspan font-size="16">)</tspan></text>
<text x="154.7" y="433" text-anchor="middle" font-family="Liberation Serif, serif" font-size="15.2" fill="#000" letter-spacing="-0.35"><tspan font-size="16" dy="0.3">(</tspan><tspan font-weight="bold">c</tspan><tspan font-size="16">)</tspan></text>
<text x="412.6" y="432.7" text-anchor="middle" font-family="Liberation Serif, serif" font-size="15.2" fill="#000" letter-spacing="-0.35"><tspan font-size="16" dy="0.3">(</tspan><tspan font-weight="bold">d</tspan><tspan font-size="16">)</tspan></text>
</svg>
</body></html>
